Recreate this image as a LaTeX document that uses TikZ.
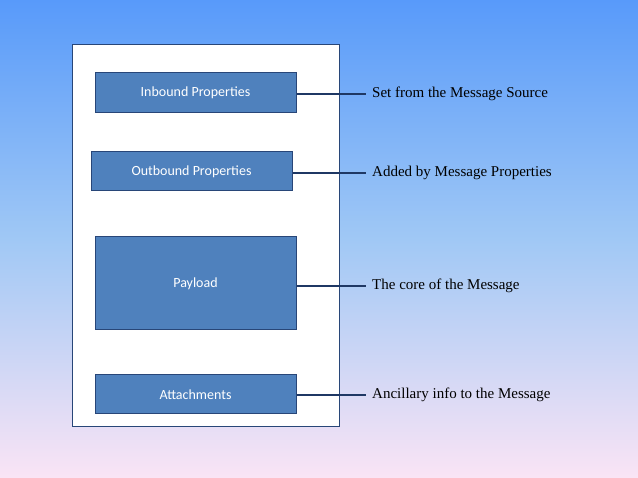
\documentclass[tikz,border=0pt]{standalone}
\usepackage{fontspec}
\setmainfont{Liberation Serif}
\newfontfamily\boxfont{Carlito}
\usetikzlibrary{positioning}
\definecolor{bgtop}{RGB}{88,154,250}
\definecolor{bgmid}{RGB}{160,200,245}
\definecolor{bgbot}{RGB}{250,228,245}
\definecolor{boxfill}{RGB}{79,129,189}
\definecolor{boxline}{RGB}{40,70,120}
\definecolor{linkcol}{RGB}{31,56,100}
\tikzset{
  part/.style={draw=boxline,fill=boxfill,line width=1pt,minimum width=201pt,
    text=white,font=\boxfont\fontsize{14}{16}\selectfont},
  note/.style={anchor=west,font=\fontsize{15}{18}\selectfont,inner sep=0pt},
  link/.style={draw=linkcol,line width=2.5pt}
}
\begin{document}
\begin{tikzpicture}[x=1pt,y=-1pt]
  \shade[top color=bgtop,bottom color=bgbot,middle color=bgmid] (0,0) rectangle (638,478);
  \useasboundingbox (0,0) rectangle (638,478);
  \node[draw=boxline,fill=white,line width=1pt,minimum width=267pt,minimum height=382pt] (msg) at (205.5,236) {};

  \node[part,minimum height=40pt] (in) at (195.5,93) {Inbound Properties};
  \node[part,minimum height=39pt] (out) at (191.5,171.5) {Outbound Properties};
  \node[part,minimum height=93pt] (pay) at (195.5,283.5) {Payload};
  \node[part,minimum height=39pt] (att) at (195.5,394.5) {Attachments};

  \node[note] (tin) at (372,94) {Set from the Message Source};
  \node[note] (tout) at (372,173) {Added by Message Properties};
  \node[note] (tpay) at (372,286) {The core of the Message};
  \node[note] (tatt) at (372,395) {Ancillary info to the Message};

  \draw[link] (in.east |- tin) -- ([xshift=-6pt]tin.west);
  \draw[link] (out.east |- tout) -- ([xshift=-6pt]tout.west);
  \draw[link] (pay.east |- tpay) -- ([xshift=-6pt]tpay.west);
  \draw[link] (att.east |- tatt) -- ([xshift=-6pt]tatt.west);
\end{tikzpicture}
\end{document}
